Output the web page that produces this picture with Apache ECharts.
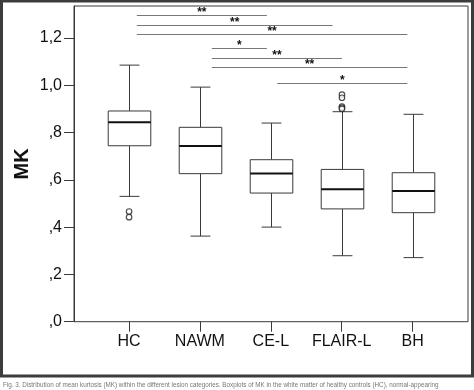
<!DOCTYPE html>
<html>
<head>
<meta charset="utf-8">
<script src="https://cdn.jsdelivr.net/npm/echarts@6/dist/echarts.min.js"></script>
<style>html,body{margin:0;padding:0;background:#fff;}#c{width:474px;height:390px;}</style>
</head>
<body>
<div id="c"></div>
<script>
// ---- data ----
var categories = ['HC', 'NAWM', 'CE-L', 'FLAIR-L', 'BH'];
var whiskerLow  = [0.530, 0.362, 0.400, 0.279, 0.271];
var q1          = [0.744, 0.626, 0.544, 0.477, 0.461];
var median      = [0.843, 0.743, 0.627, 0.560, 0.553];
var q3          = [0.891, 0.822, 0.685, 0.644, 0.630];
var whiskerHigh = [1.085, 0.992, 0.840, 0.888, 0.877];
var outlierCat  = [0, 0, 3, 3, 3, 3, 3];
var outlierVal  = [0.466, 0.442, 0.960, 0.947, 0.910, 0.905, 0.900];
var yTickValues = [0, 0.2, 0.4, 0.6, 0.8, 1.0, 1.2];
var yTickLabels = [',0', ',2', ',4', ',6', ',8', '1,0', '1,2'];
// significance brackets (category-index positions)
var sigFrom  = [0.109, 0.109, 0.109, 1.166, 1.166, 1.166, 2.087];
var sigTo    = [1.942, 2.867, 3.921, 1.942, 3.000, 3.921, 3.921];
var sigLevel = [1.296, 1.256, 1.216, 1.156, 1.116, 1.077, 1.009];
var sigLabel = ['**', '**', '**', '*', '**', '**', '*'];
var caption = 'Fig. 3. Distribution of mean kurtosis (MK) within the different lesion categories. Boxplots of MK in the white matter of healthy controls (HC), normal-appearing';

var boxData = categories.map(function (c, i) {
  return [i, whiskerLow[i], q1[i], median[i], q3[i], whiskerHigh[i]];
});
var outlierData = outlierCat.map(function (c, i) { return [c, outlierVal[i]]; });
var sigData = sigFrom.map(function (f, i) { return [f, sigTo[i], sigLevel[i], sigLabel[i]]; });

var lineColor = '#3a3a3a';

var chart = echarts.init(document.getElementById('c'), null, {renderer: 'canvas'});
chart.setOption({
  animation: false,
  backgroundColor: '#fff',
  graphic: [
    {type: 'rect', shape: {x: 1.5, y: 1, width: 471, height: 375}, style: {fill: 'none', stroke: '#3c3c3c', lineWidth: 3}, z: 100},
    {type: 'text', left: 3, top: 382, style: {text: caption, fontSize: 6.3, fill: '#777', fontFamily: 'Liberation Sans'}}
  ],
  grid: [
    {left: 74, top: 6, width: 394, height: 315.7, show: true, borderColor: lineColor, borderWidth: 1, backgroundColor: 'transparent'},
    {left: 93.55, top: 6, width: 354.5, height: 315.7}
  ],
  xAxis: [
    {type: 'value', gridIndex: 0, min: -0.776, max: 4.776, show: false},
    {type: 'category', gridIndex: 1, data: categories, boundaryGap: true,
     axisLine: {show: false},
     axisTick: {show: true, alignWithLabel: true, interval: 0, length: 10, lineStyle: {color: lineColor, width: 1}},
     axisLabel: {margin: 12, interval: 0, color: '#111', fontSize: 16, fontFamily: 'Liberation Sans'},
     splitLine: {show: false}}
  ],
  yAxis: [
    {type: 'value', gridIndex: 0, min: 0, max: 1.335,
     name: 'MK', nameLocation: 'middle', nameRotate: 90, nameGap: 42, nameMoveOverlap: false,
     nameTextStyle: {fontSize: 20, fontWeight: 'bold', color: '#111', fontFamily: 'Liberation Sans'},
     axisLine: {show: true, onZero: false, lineStyle: {color: lineColor, width: 1}},
     axisTick: {show: true, length: 10, customValues: yTickValues, lineStyle: {color: lineColor, width: 1}},
     axisLabel: {margin: 12, fontSize: 16, color: '#111', fontFamily: 'Liberation Sans', customValues: yTickValues,
       formatter: function (v) { var k = Math.round(v / 0.2); return yTickLabels[k] || ''; }},
     splitLine: {show: false}},
    {type: 'value', gridIndex: 1, min: 0, max: 1.335, show: false}
  ],
  series: [
    {
      type: 'custom', xAxisIndex: 0, yAxisIndex: 0,
      data: boxData,
      renderItem: function (params, api) {
        var x = api.value(0);
        var half = api.size([0.6, 0])[0] / 2;
        var capHalf = api.size([0.28, 0])[0] / 2;
        var pMin = api.coord([x, api.value(1)]);
        var pQ1 = api.coord([x, api.value(2)]);
        var pMed = api.coord([x, api.value(3)]);
        var pQ3 = api.coord([x, api.value(4)]);
        var pMax = api.coord([x, api.value(5)]);
        var cx = Math.round(pMed[0]) + 0.5;
        var st = {stroke: lineColor, lineWidth: 1, fill: 'none'};
        return {type: 'group', children: [
          {type: 'line', shape: {x1: cx, y1: pQ3[1], x2: cx, y2: pMax[1]}, style: st},
          {type: 'line', shape: {x1: cx, y1: pQ1[1], x2: cx, y2: pMin[1]}, style: st},
          {type: 'line', shape: {x1: cx - capHalf, y1: pMax[1], x2: cx + capHalf, y2: pMax[1]}, style: st},
          {type: 'line', shape: {x1: cx - capHalf, y1: pMin[1], x2: cx + capHalf, y2: pMin[1]}, style: st},
          {type: 'rect', shape: {x: cx - half, y: pQ3[1], width: half * 2, height: pQ1[1] - pQ3[1]}, style: {stroke: lineColor, lineWidth: 1, fill: '#fff'}},
          {type: 'line', shape: {x1: cx - half, y1: pMed[1], x2: cx + half, y2: pMed[1]}, style: {stroke: '#111', lineWidth: 2}}
        ]};
      },
      z: 2
    },
    {
      type: 'scatter', xAxisIndex: 0, yAxisIndex: 0,
      data: outlierData, symbol: 'circle', symbolSize: 5.5,
      itemStyle: {color: '#fff', borderColor: '#222', borderWidth: 1.2},
      z: 3
    },
    {
      type: 'custom', xAxisIndex: 0, yAxisIndex: 0,
      data: sigData,
      renderItem: function (params, api) {
        var a = api.coord([api.value(0), api.value(2)]);
        var b = api.coord([api.value(1), api.value(2)]);
        var y = Math.round(a[1]) + 0.5;
        return {type: 'group', children: [
          {type: 'line', shape: {x1: a[0], y1: y, x2: b[0], y2: y}, style: {stroke: '#777', lineWidth: 1}},
          {type: 'text', x: (a[0] + b[0]) / 2, y: y + 3, style: {text: sigData[params.dataIndex][3], fontSize: 12, fontWeight: 'bold', fill: '#111', align: 'center', verticalAlign: 'bottom', fontFamily: 'Liberation Sans'}}
        ]};
      },
      z: 4
    }
  ]
});
</script>
</body>
</html>
